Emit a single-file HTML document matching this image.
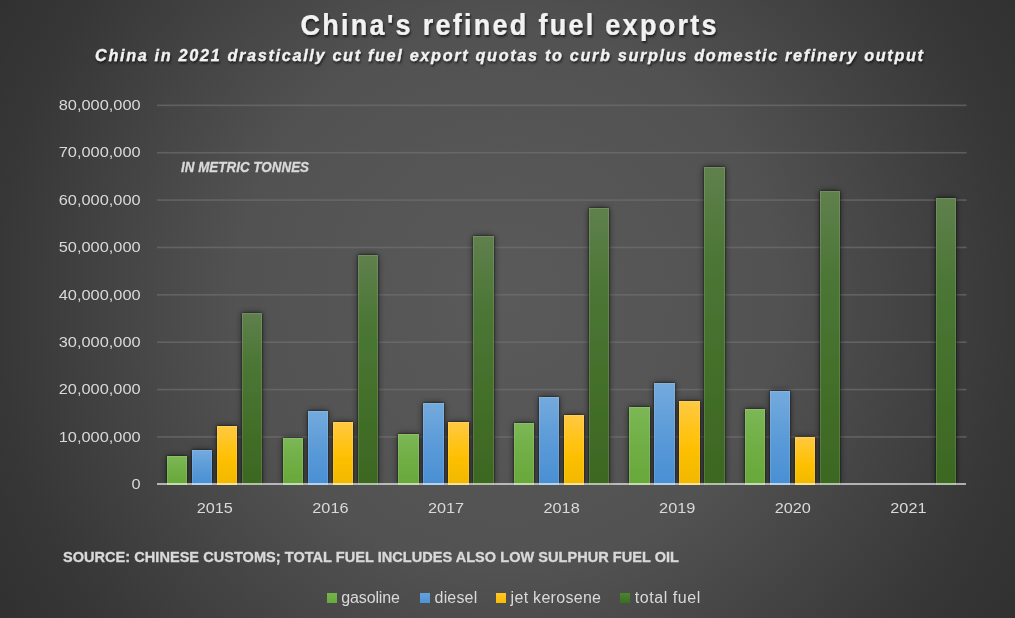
<!DOCTYPE html>
<html><head><meta charset="utf-8">
<style>
html,body{margin:0;padding:0;background:#3a3a3a;}
body{width:1015px;height:618px;overflow:hidden;}
svg{display:block;will-change:transform;}
text{font-family:"Liberation Sans",sans-serif;}
</style></head><body>
<svg width="1015" height="618" viewBox="0 0 1015 618">
<defs>
 <radialGradient id="bg" gradientUnits="userSpaceOnUse" cx="507" cy="300" r="600">
  <stop offset="0" stop-color="#5a5a5a"/>
  <stop offset="0.45" stop-color="#525252"/>
  <stop offset="0.85" stop-color="#373737"/>
  <stop offset="1" stop-color="#303030"/>
 </radialGradient>
 <linearGradient id="g_gas" x1="0" y1="0" x2="0" y2="1">
  <stop offset="0" stop-color="#7cb755"/><stop offset="0.5" stop-color="#70ae45"/><stop offset="1" stop-color="#68a83a"/>
 </linearGradient>
 <linearGradient id="g_dsl" x1="0" y1="0" x2="0" y2="1">
  <stop offset="0" stop-color="#74aadd"/><stop offset="0.5" stop-color="#5b9bd8"/><stop offset="1" stop-color="#498fd3"/>
 </linearGradient>
 <linearGradient id="g_jet" x1="0" y1="0" x2="0" y2="1">
  <stop offset="0" stop-color="#ffc942"/><stop offset="0.5" stop-color="#ffc107"/><stop offset="1" stop-color="#f1b800"/>
 </linearGradient>
 <linearGradient id="g_tot" x1="0" y1="0" x2="0" y2="1">
  <stop offset="0" stop-color="#5f804d"/><stop offset="0.3" stop-color="#4c7635"/><stop offset="0.65" stop-color="#436f2a"/><stop offset="1" stop-color="#3c6722"/>
 </linearGradient>
 <linearGradient id="l_gas" x1="0" y1="0" x2="0" y2="1"><stop offset="0" stop-color="#74b44a"/><stop offset="1" stop-color="#68aa3c"/></linearGradient>
 <linearGradient id="l_dsl" x1="0" y1="0" x2="0" y2="1"><stop offset="0" stop-color="#64a2dc"/><stop offset="1" stop-color="#4e92d6"/></linearGradient>
 <linearGradient id="l_jet" x1="0" y1="0" x2="0" y2="1"><stop offset="0" stop-color="#ffc62a"/><stop offset="1" stop-color="#f8bb00"/></linearGradient>
 <linearGradient id="l_tot" x1="0" y1="0" x2="0" y2="1"><stop offset="0" stop-color="#4a8530"/><stop offset="1" stop-color="#3a6e20"/></linearGradient>
 <filter id="sh" x="-50%" y="-20%" width="200%" height="140%">
  <feGaussianBlur in="SourceAlpha" stdDeviation="1.2" result="b1"/>
  <feComponentTransfer in="b1" result="s1"><feFuncA type="linear" slope="0.7"/></feComponentTransfer>
  <feGaussianBlur in="SourceAlpha" stdDeviation="3.5" result="b2"/>
  <feComponentTransfer in="b2" result="s2"><feFuncA type="linear" slope="0.55"/></feComponentTransfer>
  <feMerge><feMergeNode in="s2"/><feMergeNode in="s1"/><feMergeNode in="SourceGraphic"/></feMerge>
 </filter>
 <filter id="tsh" x="-5%" y="-30%" width="110%" height="160%">
  <feGaussianBlur in="SourceAlpha" stdDeviation="1.2"/>
  <feOffset dx="1" dy="1.5"/>
  <feComponentTransfer><feFuncA type="linear" slope="0.6"/></feComponentTransfer>
  <feMerge><feMergeNode/><feMergeNode in="SourceGraphic"/></feMerge>
 </filter>
</defs>
<rect x="0" y="0" width="1015" height="618" fill="url(#bg)"/>

<rect x="157" y="436.13" width="809.5" height="1.6" fill="#737373" opacity="0.62"/>
<rect x="157" y="388.76" width="809.5" height="1.6" fill="#737373" opacity="0.62"/>
<rect x="157" y="341.39" width="809.5" height="1.6" fill="#737373" opacity="0.62"/>
<rect x="157" y="294.02" width="809.5" height="1.6" fill="#737373" opacity="0.62"/>
<rect x="157" y="246.65" width="809.5" height="1.6" fill="#737373" opacity="0.62"/>
<rect x="157" y="199.28" width="809.5" height="1.6" fill="#737373" opacity="0.62"/>
<rect x="157" y="151.91" width="809.5" height="1.6" fill="#737373" opacity="0.62"/>
<rect x="157" y="104.54" width="809.5" height="1.6" fill="#737373" opacity="0.62"/>
<clipPath id="cb"><rect x="0" y="0" width="1015" height="485"/></clipPath>
<g clip-path="url(#cb)"><g filter="url(#sh)">
<rect x="167" y="456" width="20" height="29" fill="url(#g_gas)"/>
<rect x="192" y="450" width="20" height="35" fill="url(#g_dsl)"/>
<rect x="217" y="426" width="20" height="59" fill="url(#g_jet)"/>
<rect x="242" y="313" width="20" height="172" fill="url(#g_tot)"/>
<rect x="283" y="438" width="20" height="47" fill="url(#g_gas)"/>
<rect x="308" y="411" width="20" height="74" fill="url(#g_dsl)"/>
<rect x="333" y="422" width="20" height="63" fill="url(#g_jet)"/>
<rect x="358" y="255" width="20" height="230" fill="url(#g_tot)"/>
<rect x="398" y="434" width="21" height="51" fill="url(#g_gas)"/>
<rect x="423" y="403" width="21" height="82" fill="url(#g_dsl)"/>
<rect x="448" y="422" width="21" height="63" fill="url(#g_jet)"/>
<rect x="473" y="236" width="21" height="249" fill="url(#g_tot)"/>
<rect x="514" y="423" width="20" height="62" fill="url(#g_gas)"/>
<rect x="539" y="397" width="20" height="88" fill="url(#g_dsl)"/>
<rect x="564" y="415" width="20" height="70" fill="url(#g_jet)"/>
<rect x="589" y="208" width="20" height="277" fill="url(#g_tot)"/>
<rect x="629" y="407" width="21" height="78" fill="url(#g_gas)"/>
<rect x="654" y="383" width="21" height="102" fill="url(#g_dsl)"/>
<rect x="679" y="401" width="21" height="84" fill="url(#g_jet)"/>
<rect x="704" y="167" width="21" height="318" fill="url(#g_tot)"/>
<rect x="745" y="409" width="20" height="76" fill="url(#g_gas)"/>
<rect x="770" y="391" width="20" height="94" fill="url(#g_dsl)"/>
<rect x="795" y="437" width="20" height="48" fill="url(#g_jet)"/>
<rect x="820" y="191" width="20" height="294" fill="url(#g_tot)"/>
<rect x="936" y="198" width="20" height="287" fill="url(#g_tot)"/>
</g></g>
<g fill="none" stroke="#ffffff" stroke-opacity="0.12" stroke-width="1">
<path d="M167.5,485 V456.5 H186.5 V485"/>
<path d="M192.5,485 V450.5 H211.5 V485"/>
<path d="M217.5,485 V426.5 H236.5 V485"/>
<path d="M242.5,485 V313.5 H261.5 V485"/>
<path d="M283.5,485 V438.5 H302.5 V485"/>
<path d="M308.5,485 V411.5 H327.5 V485"/>
<path d="M333.5,485 V422.5 H352.5 V485"/>
<path d="M358.5,485 V255.5 H377.5 V485"/>
<path d="M398.5,485 V434.5 H418.5 V485"/>
<path d="M423.5,485 V403.5 H443.5 V485"/>
<path d="M448.5,485 V422.5 H468.5 V485"/>
<path d="M473.5,485 V236.5 H493.5 V485"/>
<path d="M514.5,485 V423.5 H533.5 V485"/>
<path d="M539.5,485 V397.5 H558.5 V485"/>
<path d="M564.5,485 V415.5 H583.5 V485"/>
<path d="M589.5,485 V208.5 H608.5 V485"/>
<path d="M629.5,485 V407.5 H649.5 V485"/>
<path d="M654.5,485 V383.5 H674.5 V485"/>
<path d="M679.5,485 V401.5 H699.5 V485"/>
<path d="M704.5,485 V167.5 H724.5 V485"/>
<path d="M745.5,485 V409.5 H764.5 V485"/>
<path d="M770.5,485 V391.5 H789.5 V485"/>
<path d="M795.5,485 V437.5 H814.5 V485"/>
<path d="M820.5,485 V191.5 H839.5 V485"/>
<path d="M936.5,485 V198.5 H955.5 V485"/>
</g>
<rect x="157" y="483" width="809" height="2" fill="#ffffff" opacity="0.6"/>
<text transform="translate(140.60,489.00) scale(1.07,1)" x="0" y="0" font-size="15.3" font-weight="normal" font-style="normal" fill="#d9d9d9" text-anchor="end">0</text>
<text transform="translate(140.60,441.63) scale(1.07,1)" x="0" y="0" font-size="15.3" font-weight="normal" font-style="normal" fill="#d9d9d9" text-anchor="end">10,000,000</text>
<text transform="translate(140.60,394.26) scale(1.07,1)" x="0" y="0" font-size="15.3" font-weight="normal" font-style="normal" fill="#d9d9d9" text-anchor="end">20,000,000</text>
<text transform="translate(140.60,346.89) scale(1.07,1)" x="0" y="0" font-size="15.3" font-weight="normal" font-style="normal" fill="#d9d9d9" text-anchor="end">30,000,000</text>
<text transform="translate(140.60,299.52) scale(1.07,1)" x="0" y="0" font-size="15.3" font-weight="normal" font-style="normal" fill="#d9d9d9" text-anchor="end">40,000,000</text>
<text transform="translate(140.60,252.15) scale(1.07,1)" x="0" y="0" font-size="15.3" font-weight="normal" font-style="normal" fill="#d9d9d9" text-anchor="end">50,000,000</text>
<text transform="translate(140.60,204.78) scale(1.07,1)" x="0" y="0" font-size="15.3" font-weight="normal" font-style="normal" fill="#d9d9d9" text-anchor="end">60,000,000</text>
<text transform="translate(140.60,157.41) scale(1.07,1)" x="0" y="0" font-size="15.3" font-weight="normal" font-style="normal" fill="#d9d9d9" text-anchor="end">70,000,000</text>
<text transform="translate(140.60,110.04) scale(1.07,1)" x="0" y="0" font-size="15.3" font-weight="normal" font-style="normal" fill="#d9d9d9" text-anchor="end">80,000,000</text>
<text transform="translate(214.80,513.10) scale(1.05,1)" x="0" y="0" font-size="15.5" font-weight="normal" font-style="normal" fill="#d9d9d9" text-anchor="middle">2015</text>
<text transform="translate(330.40,513.10) scale(1.05,1)" x="0" y="0" font-size="15.5" font-weight="normal" font-style="normal" fill="#d9d9d9" text-anchor="middle">2016</text>
<text transform="translate(446.00,513.10) scale(1.05,1)" x="0" y="0" font-size="15.5" font-weight="normal" font-style="normal" fill="#d9d9d9" text-anchor="middle">2017</text>
<text transform="translate(561.60,513.10) scale(1.05,1)" x="0" y="0" font-size="15.5" font-weight="normal" font-style="normal" fill="#d9d9d9" text-anchor="middle">2018</text>
<text transform="translate(677.20,513.10) scale(1.05,1)" x="0" y="0" font-size="15.5" font-weight="normal" font-style="normal" fill="#d9d9d9" text-anchor="middle">2019</text>
<text transform="translate(792.80,513.10) scale(1.05,1)" x="0" y="0" font-size="15.5" font-weight="normal" font-style="normal" fill="#d9d9d9" text-anchor="middle">2020</text>
<text transform="translate(908.40,513.10) scale(1.05,1)" x="0" y="0" font-size="15.5" font-weight="normal" font-style="normal" fill="#d9d9d9" text-anchor="middle">2021</text>
<g filter="url(#tsh)">
<text transform="translate(300.50,34.70) scale(0.93,1)" x="0" y="0" font-size="29" font-weight="bold" font-style="normal" fill="#f2f2f2" text-anchor="start" textLength="447.31" lengthAdjust="spacing" stroke="#f2f2f2" stroke-width="0.25">China&#39;s refined fuel exports</text>
<text transform="translate(95.00,60.90) scale(1.04,1)" x="0" y="0" font-size="15.6" font-weight="bold" font-style="italic" fill="#f2f2f2" text-anchor="start" textLength="796.15" lengthAdjust="spacing" stroke="#f2f2f2" stroke-width="0.25">China in 2021 drastically cut fuel export quotas to curb surplus domestic refinery output</text>
</g>
<text transform="translate(181.00,171.70) scale(0.97,1)" x="0" y="0" font-size="13.8" font-weight="bold" font-style="italic" fill="#d9d9d9" text-anchor="start" textLength="131.96" lengthAdjust="spacing" stroke="#d9d9d9" stroke-width="0.3">IN METRIC TONNES</text>
<text transform="translate(63.00,562.10) scale(0.95,1)" x="0" y="0" font-size="15.3" font-weight="bold" font-style="normal" fill="#d9d9d9" text-anchor="start" textLength="648.42" lengthAdjust="spacing" stroke="#d9d9d9" stroke-width="0.35">SOURCE: CHINESE CUSTOMS; TOTAL FUEL INCLUDES ALSO LOW SULPHUR FUEL OIL</text>
<rect x="327" y="593" width="10" height="10" fill="url(#l_gas)"/>
<text transform="translate(341.20,602.80) scale(1.0,1)" x="0" y="0" font-size="16" font-weight="normal" font-style="normal" fill="#d9d9d9" text-anchor="start" textLength="58.80" lengthAdjust="spacing">gasoline</text>
<rect x="420" y="593" width="10" height="10" fill="url(#l_dsl)"/>
<text transform="translate(434.60,602.80) scale(1.0,1)" x="0" y="0" font-size="16" font-weight="normal" font-style="normal" fill="#d9d9d9" text-anchor="start" textLength="42.60" lengthAdjust="spacing">diesel</text>
<rect x="496" y="593" width="10" height="10" fill="url(#l_jet)"/>
<text transform="translate(510.60,602.80) scale(1.0,1)" x="0" y="0" font-size="16" font-weight="normal" font-style="normal" fill="#d9d9d9" text-anchor="start" textLength="90.40" lengthAdjust="spacing">jet kerosene</text>
<rect x="620" y="593" width="10" height="10" fill="url(#l_tot)"/>
<text transform="translate(634.80,602.80) scale(1.0,1)" x="0" y="0" font-size="16" font-weight="normal" font-style="normal" fill="#d9d9d9" text-anchor="start" textLength="65.40" lengthAdjust="spacing">total fuel</text>
</svg></body></html>
